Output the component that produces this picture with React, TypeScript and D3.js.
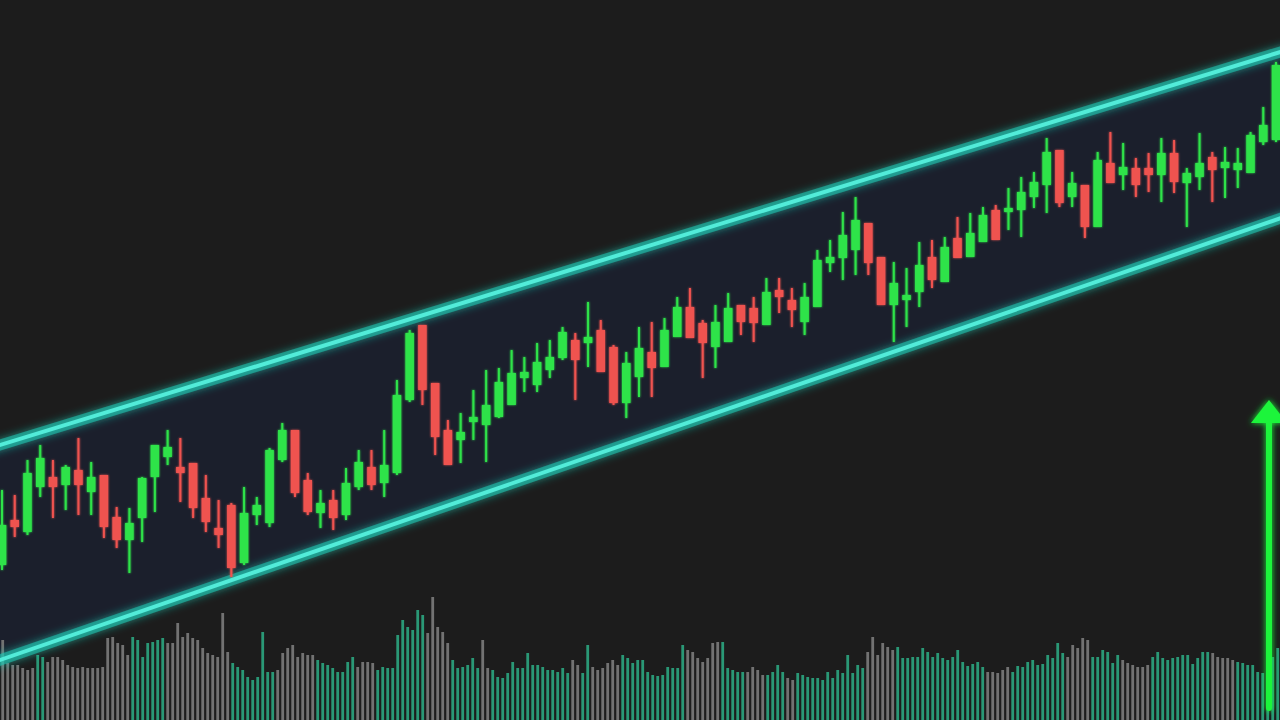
import React, { useEffect, useRef } from "react";
import * as d3 from "d3";

// candles, one per session (price units)
const opens = [
  15.5, 20.0, 18.8, 23.3, 24.3, 23.5, 25.0, 22.8, 24.5, 20.3,
  18.0, 20.2, 24.3, 26.3, 25.3, 25.7, 22.2, 19.2, 21.5, 15.7,
  20.5, 19.7, 26.0, 29.0, 24.0, 20.7, 22.0, 20.5, 23.3, 25.3,
  23.7, 24.7, 32.0, 39.5, 33.7, 29.0, 28.0, 29.8, 29.5, 30.3,
  31.5, 34.2, 33.5, 35.0, 36.2, 38.0, 37.7, 39.0, 37.3, 31.7,
  34.3, 36.8, 35.3, 38.3, 41.3, 39.7, 37.3, 37.8, 41.5, 41.2,
  39.5, 43.0, 42.0, 39.8, 41.3, 45.7, 46.2, 47.0, 49.7, 46.3,
  41.5, 42.0, 42.8, 46.3, 43.8, 48.2, 46.3, 47.8, 51.0, 50.8,
  51.0, 52.3, 53.5, 57.0, 52.3, 53.5, 49.3, 55.7, 54.5, 55.2,
  55.2, 54.5, 56.7, 53.7, 54.3, 56.3, 55.2, 55.0, 54.7, 57.8,
  58.0,
];
const highs = [
  23.0, 22.5, 26.0, 27.5, 26.0, 25.5, 28.2, 25.8, 24.5, 21.3,
  21.2, 24.3, 27.5, 29.0, 28.2, 25.7, 24.5, 22.0, 21.7, 23.3,
  22.3, 27.2, 29.7, 29.0, 24.7, 23.0, 23.0, 25.2, 27.0, 27.0,
  29.0, 34.0, 39.0, 39.5, 33.7, 30.0, 30.7, 33.0, 35.0, 35.2,
  37.0, 36.3, 37.7, 38.0, 39.3, 38.7, 41.8, 40.0, 37.5, 36.8,
  39.3, 39.8, 40.2, 42.3, 43.2, 40.0, 41.5, 42.7, 41.5, 42.3,
  44.2, 44.2, 43.2, 43.7, 47.0, 48.0, 50.8, 52.3, 49.7, 46.3,
  45.8, 45.2, 47.8, 48.0, 48.3, 50.3, 50.7, 51.3, 51.5, 53.2,
  54.3, 54.8, 58.2, 57.0, 54.8, 53.5, 56.8, 58.8, 57.7, 56.2,
  56.7, 58.2, 58.0, 55.2, 58.7, 56.8, 57.3, 57.2, 58.8, 61.3,
  65.8,
];
const lows = [
  15.0, 18.3, 18.5, 22.3, 20.2, 21.0, 20.5, 20.5, 18.2, 17.2,
  14.7, 17.8, 20.8, 25.5, 21.8, 20.2, 18.8, 17.2, 14.3, 15.5,
  19.5, 19.3, 25.8, 22.3, 20.5, 19.2, 19.0, 20.0, 23.0, 23.0,
  22.3, 24.5, 31.8, 31.5, 26.5, 25.5, 25.7, 28.0, 25.8, 30.2,
  31.5, 32.8, 32.8, 34.2, 36.0, 32.0, 35.3, 34.8, 31.5, 30.2,
  32.3, 32.3, 35.3, 38.3, 38.2, 34.2, 35.2, 37.8, 38.5, 37.8,
  39.5, 40.7, 39.3, 38.5, 41.3, 44.8, 44.0, 44.5, 44.5, 41.5,
  37.8, 39.3, 41.3, 43.2, 43.8, 46.2, 46.3, 47.8, 48.0, 49.0,
  48.3, 51.2, 50.7, 51.3, 51.3, 48.2, 49.3, 53.7, 53.0, 52.3,
  52.8, 51.8, 52.7, 49.3, 53.0, 51.8, 52.2, 53.2, 54.7, 57.5,
  57.8,
];
const closes = [
  19.5, 19.3, 24.7, 26.2, 23.3, 25.3, 23.5, 24.3, 19.3, 18.0,
  19.7, 24.2, 27.5, 27.3, 24.7, 21.2, 19.8, 18.5, 15.2, 20.7,
  21.5, 27.0, 29.0, 22.7, 20.8, 21.7, 20.2, 23.7, 25.8, 23.5,
  25.5, 32.5, 38.7, 33.0, 28.3, 25.5, 28.8, 30.3, 31.5, 33.8,
  34.7, 34.8, 35.8, 36.3, 38.8, 36.0, 38.3, 34.8, 31.7, 35.7,
  37.2, 35.2, 39.0, 41.3, 38.2, 37.7, 39.8, 41.2, 39.8, 39.7,
  42.8, 42.3, 41.0, 42.3, 46.0, 46.3, 48.5, 50.0, 45.7, 41.5,
  43.7, 42.5, 45.5, 44.0, 47.3, 46.2, 48.7, 50.5, 48.0, 51.2,
  52.8, 53.8, 56.8, 51.7, 53.7, 49.3, 56.0, 53.7, 55.3, 53.5,
  54.5, 56.7, 53.8, 54.7, 55.7, 55.0, 55.8, 55.7, 58.5, 59.5,
  65.5,
];

// volume histogram (finer than the candles)
const volumes = [
  80, 57, 55, 55, 52, 50, 52, 65, 63, 58, 63, 63, 60, 55, 53, 52, 53, 52, 52, 52,
  53, 82, 83, 77, 75, 65, 83, 80, 63, 77, 78, 80, 82, 77, 77, 97, 83, 87, 82, 80,
  72, 67, 65, 63, 107, 68, 57, 53, 50, 43, 40, 43, 88, 48, 48, 50, 67, 72, 75, 63,
  67, 65, 65, 60,
  57, 55, 52, 48, 48, 58, 63, 53, 58, 58, 57, 50, 53, 52, 52, 85, 100, 93, 90, 110,
  105, 87, 123, 93, 88, 77, 60, 52, 53, 55, 62, 52, 80, 52, 50, 43, 42, 47, 58, 52,
  52, 67, 55, 55, 53, 50, 50, 48, 52, 47, 60, 55, 47, 75, 53, 50, 52, 57, 60, 55,
  65, 62, 57, 60,
  60, 48, 45, 44, 45, 53, 52, 52, 75, 70, 68, 62, 58, 62, 77, 78, 78, 52, 50, 48,
  48, 48, 53, 50, 45, 45, 48, 55, 48, 42, 40, 47, 45, 43, 42, 42, 40, 48, 42, 50,
  47, 65, 47, 55, 52, 68, 83, 65, 77, 73, 70, 73, 62, 62, 63, 63, 72, 68, 63, 67,
  62, 60, 63, 70,
  58, 54, 56, 58, 53, 48, 48, 47, 50, 53, 48, 54, 53, 58, 60, 55, 56, 65, 62, 77,
  67, 63, 75, 72, 82, 80, 63, 63, 70, 68, 57, 65, 60, 57, 55, 53, 53, 55, 63, 68,
  62, 60, 62, 63, 65, 65, 56, 62, 68, 68, 67, 63, 62, 62, 60, 58, 57, 55, 55, 48,
  47, 47, 63, 72,
];
const volumeUp = [
  0, 0, 0, 0, 0, 0, 0, 1, 1, 0, 0, 0, 0, 0, 0, 0, 0, 0, 0, 0,
  0, 0, 0, 0, 0, 0, 1, 1, 1, 1, 1, 1, 1, 0, 0, 0, 0, 0, 0, 0,
  0, 0, 0, 0, 0, 0, 1, 1, 1, 1, 1, 1, 1, 1, 1, 0, 0, 0, 0, 0,
  0, 0, 0, 1,
  1, 1, 1, 1, 1, 1, 1, 0, 0, 0, 0, 1, 1, 1, 1, 1, 1, 1, 1, 1,
  1, 0, 0, 0, 0, 0, 1, 1, 1, 1, 1, 1, 0, 0, 1, 1, 1, 1, 1, 1,
  1, 1, 1, 1, 1, 1, 1, 1, 1, 1, 0, 0, 1, 1, 0, 0, 0, 0, 0, 0,
  1, 1, 1, 1,
  1, 1, 1, 1, 1, 1, 1, 1, 1, 0, 0, 0, 0, 0, 0, 0, 1, 1, 1, 1,
  1, 0, 0, 0, 0, 1, 1, 1, 1, 0, 0, 1, 1, 1, 1, 1, 1, 1, 1, 1,
  1, 1, 1, 1, 1, 0, 0, 0, 0, 0, 0, 1, 1, 1, 1, 1, 1, 1, 1, 1,
  1, 1, 1, 1,
  1, 1, 1, 1, 1, 0, 0, 0, 0, 0, 1, 1, 1, 1, 1, 1, 1, 1, 1, 1,
  1, 0, 0, 0, 0, 0, 1, 1, 1, 1, 1, 1, 0, 0, 0, 0, 0, 0, 1, 1,
  1, 1, 1, 1, 1, 1, 1, 1, 1, 1, 0, 0, 0, 0, 0, 1, 1, 1, 1, 1,
  1, 1, 1, 1,
];

// rising channel, given as [candle index, price] at both ends
const channelIdx = [-1, 101];
const upperLine = [27.17, 67.06];
const lowerLine = [5.63, 50.46];

// breakout arrow (candle index, prices)
const arrowIndex = 99.45;
const arrowTip = 32.0;
const arrowHeadBase = 29.7;
const arrowTail = 1.2;

function App() {
  const svgRef = useRef<SVGSVGElement | null>(null);

  useEffect(() => {
    drawChart();
  }, []);

  const drawChart = () => {
    const svg = d3.select(svgRef.current);
    svg.selectAll("*").remove();

    const width = 1280;
    const height = 720;

    const x = d3.scaleLinear().domain([0, 100]).range([2, 1276]);
    const y = d3.scaleLinear().domain([0, 72]).range([height, 0]);
    const xv = d3.scaleLinear().domain([0, volumes.length - 1]).range([2.7, 1277.7]);
    const yv = d3.scaleLinear().domain([0, 130]).range([height, 590]);

    const defs = svg.append("defs");
    const glow = (id: string, sd: number) => {
      const f = defs
        .append("filter")
        .attr("id", id)
        .attr("x", "-20%")
        .attr("y", "-20%")
        .attr("width", "140%")
        .attr("height", "140%");
      f.append("feGaussianBlur").attr("stdDeviation", sd).attr("result", "b");
      const m = f.append("feMerge");
      m.append("feMergeNode").attr("in", "b");
      m.append("feMergeNode").attr("in", "SourceGraphic");
    };
    glow("lineGlow", 4);
    glow("arrowGlow", 3);
    glow("candleGlow", 1.2);

    svg.append("rect").attr("width", width).attr("height", height).attr("fill", "#1c1c1c");

    const chan = channelIdx.map((d, i) => ({ i: d, up: upperLine[i], lo: lowerLine[i] }));

    const area = d3
      .area<{ i: number; up: number; lo: number }>()
      .x((d) => x(d.i))
      .y0((d) => y(d.lo))
      .y1((d) => y(d.up));
    svg.append("path").datum(chan).attr("fill", "#1b1f2c").attr("d", area);

    // volume
    svg
      .append("g")
      .selectAll("rect")
      .data(volumes)
      .enter()
      .append("rect")
      .attr("x", (_, i) => xv(i) - 1.4)
      .attr("width", 2.8)
      .attr("y", (d) => yv(d))
      .attr("height", (d) => height - yv(d))
      .attr("fill", (_, i) => (volumeUp[i] ? "#2a9876" : "#727272"));

    // channel lines
    const upper = d3
      .line<{ i: number; up: number; lo: number }>()
      .x((d) => x(d.i))
      .y((d) => y(d.up));
    const lower = d3
      .line<{ i: number; up: number; lo: number }>()
      .x((d) => x(d.i))
      .y((d) => y(d.lo));
    [upper, lower].forEach((ln) => {
      svg
        .append("path")
        .datum(chan)
        .attr("fill", "none")
        .attr("stroke", "#1fc4b1")
        .attr("stroke-width", 11)
        .attr("stroke-opacity", 0.6)
        .attr("filter", "url(#lineGlow)")
        .attr("d", ln);
      svg
        .append("path")
        .datum(chan)
        .attr("fill", "none")
        .attr("stroke", "#52ecd9")
        .attr("stroke-width", 4)
        .attr("d", ln);
    });

    // candles
    const candles = opens.map((o, i) => ({
      i,
      o,
      h: highs[i],
      l: lows[i],
      c: closes[i],
    }));
    const col = (d: { o: number; c: number }) => (d.c >= d.o ? "#2fe34a" : "#ef5350");
    const g = svg.append("g").attr("filter", "url(#candleGlow)");
    g.selectAll(".wick")
      .data(candles)
      .enter()
      .append("line")
      .attr("class", "wick")
      .attr("x1", (d) => x(d.i))
      .attr("x2", (d) => x(d.i))
      .attr("y1", (d) => y(d.h))
      .attr("y2", (d) => y(d.l))
      .attr("stroke", col)
      .attr("stroke-width", 2);
    g.selectAll(".body")
      .data(candles)
      .enter()
      .append("rect")
      .attr("class", "body")
      .attr("x", (d) => x(d.i) - 4.25)
      .attr("width", 8.5)
      .attr("y", (d) => y(Math.max(d.o, d.c)))
      .attr("height", (d) => Math.max(2, Math.abs(y(d.o) - y(d.c))))
      .attr("fill", col);

    // arrow
    const ax = x(arrowIndex);
    const ag = svg.append("g").attr("filter", "url(#arrowGlow)");
    ag.append("line")
      .attr("x1", ax)
      .attr("x2", ax)
      .attr("y1", y(arrowHeadBase))
      .attr("y2", y(arrowTail))
      .attr("stroke", "#1ef53a")
      .attr("stroke-width", 6)
      .attr("stroke-linecap", "round");
    ag.append("path")
      .attr(
        "d",
        `M${ax},${y(arrowTip)} L${ax + 18},${y(arrowHeadBase)} L${ax - 18},${y(arrowHeadBase)} Z`
      )
      .attr("fill", "#1ef53a");
  };

  return (
    <div style={{ position: "fixed", left: 0, top: 0, background: "#1c1c1c" }}>
      <svg ref={svgRef} width={1280} height={720} style={{ display: "block" }} />
    </div>
  );
}

export default App;
